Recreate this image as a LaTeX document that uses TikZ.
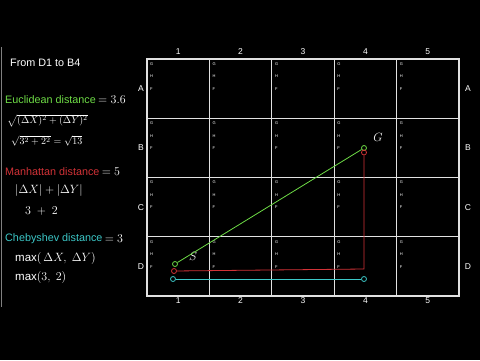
\documentclass[tikz,border=0pt]{standalone}
\usepackage{fontspec}
\setmainfont{Liberation Sans}
\usepackage{amsmath}
\usepackage{tikz}

\definecolor{eucl}{RGB}{110,220,70}
\definecolor{manh}{RGB}{210,50,55}
\definecolor{cheb}{RGB}{60,200,200}
\definecolor{gridc}{RGB}{225,225,225}

\tikzset{
  cellbox/.style={draw=gridc,line width=1.2pt},
  cellmark/.style={text=white,font=\fontsize{4}{4}\selectfont,inner sep=0pt,anchor=west},
  axislbl/.style={text=white,font=\fontsize{8.5}{8.5}\selectfont,inner sep=0pt},
  title/.style={text=white,font=\fontsize{10.8}{10.8}\selectfont,inner sep=0pt,anchor=west},
  hand/.style={text=white,font=\fontsize{11.5}{11.5}\selectfont,inner sep=0pt,anchor=west},
  pathend/.style={circle,draw,line width=0.8pt,inner sep=0pt,minimum size=5pt},
}

\begin{document}
\begin{tikzpicture}[x=1pt,y=-1pt]
  \fill[black] (0,0) rectangle (480,360);
  \useasboundingbox (0,0) rectangle (480,360);
  \draw[gray,line width=0.8pt] (1.5,47) -- (1.5,307);

  % the 5 x 4 board
  \def\rows{{"A","B","C","D"}};
  \foreach \c in {0,...,4}{
  \foreach \r in {0,...,3}{
  \draw[cellbox] (147+62.4*\c,59+59.25*\r) rectangle (209.4+62.4*\c,118.25+59.25*\r);
  \node[cellmark] (g-\c-\r) at (150+62.4*\c,64+59.25*\r) {G};
  \node[cellmark] (h-\c-\r) at (150+62.4*\c,76.5+59.25*\r) {H};
  \node[cellmark] (f-\c-\r) at (150+62.4*\c,89+59.25*\r) {F};
  }
  \pgfmathtruncatemacro{\n}{\c+1}
  \node[axislbl] (top-\n) at (178.2+62.4*\c,52) {\n};
  \node[axislbl] (bot-\n) at (178.2+62.4*\c,301) {\n};
  }
  \foreach \r in {0,...,3}{
  \node[axislbl] (lft-\r) at (141,88.6+59.25*\r) {\pgfmathparse{\rows[\r]}\pgfmathresult};
  \node[axislbl] (rgt-\r) at (468,88.6+59.25*\r) {\pgfmathparse{\rows[\r]}\pgfmathresult};
  }

  % left column text
  \node[title] (from) at (10,63) {From D1 to B4};
  \node[title,text=eucl] (eu) at (5,100) {Euclidean distance};
  \node[hand] (eu-val) at (eu.east) {\,$=3.6$};
  \node[hand,font=\fontsize{10}{10}\selectfont] (eu-f1) at (7,120.5) {$\sqrt{(\Delta X)^2+(\Delta Y)^2}$};
  \node[hand,font=\fontsize{10}{10}\selectfont] (eu-f2) at (11,141) {$\sqrt{3^2+2^2}=\sqrt{13}$};
  \node[title,text=manh] (ma) at (5,172) {Manhattan distance};
  \node[hand] (ma-val) at (ma.east) {\,$=5$};
  \node[hand] (ma-f1) at (15,190) {$|\Delta X|+|\Delta Y|$};
  \node[hand] (ma-f2) at (25,211) {$3\ +\ 2$};
  \node[title,text=cheb] (ch) at (5,239) {Chebyshev distance};
  \node[hand] (ch-val) at (ch.east) {\,$=3$};
  \node[hand] (ch-f1) at (15,258) {$\max(\,\Delta X,\ \Delta Y)$};
  \node[hand] (ch-f2) at (15,277) {$\max(3,\ 2)$};

  % start and goal
  \node[pathend,draw=eucl] (s-eu) at (175,264) {};
  \node[pathend,draw=eucl] (g-eu) at (364,148) {};
  \node[pathend,draw=manh] (s-ma) at (174,271) {};
  \coordinate (k-ma) at (364,269);
  \node[pathend,draw=manh] (g-ma) at (364,152.5) {};
  \node[pathend,draw=cheb] (s-ch) at (173,279) {};
  \node[pathend,draw=cheb] (g-ch) at (364,279) {};
  \node[text=white,font=\large] (slbl) at (193,256) {$S$};
  \node[text=white,font=\large] (glbl) at (378,137) {$G$};

  \draw[eucl,line width=0.8pt] (s-eu) -- (g-eu);
  \draw[manh,line width=0.8pt] (s-ma) -- (k-ma) -- (g-ma);
  \draw[cheb,line width=0.8pt] (s-ch) -- (g-ch);
\end{tikzpicture}
\end{document}
